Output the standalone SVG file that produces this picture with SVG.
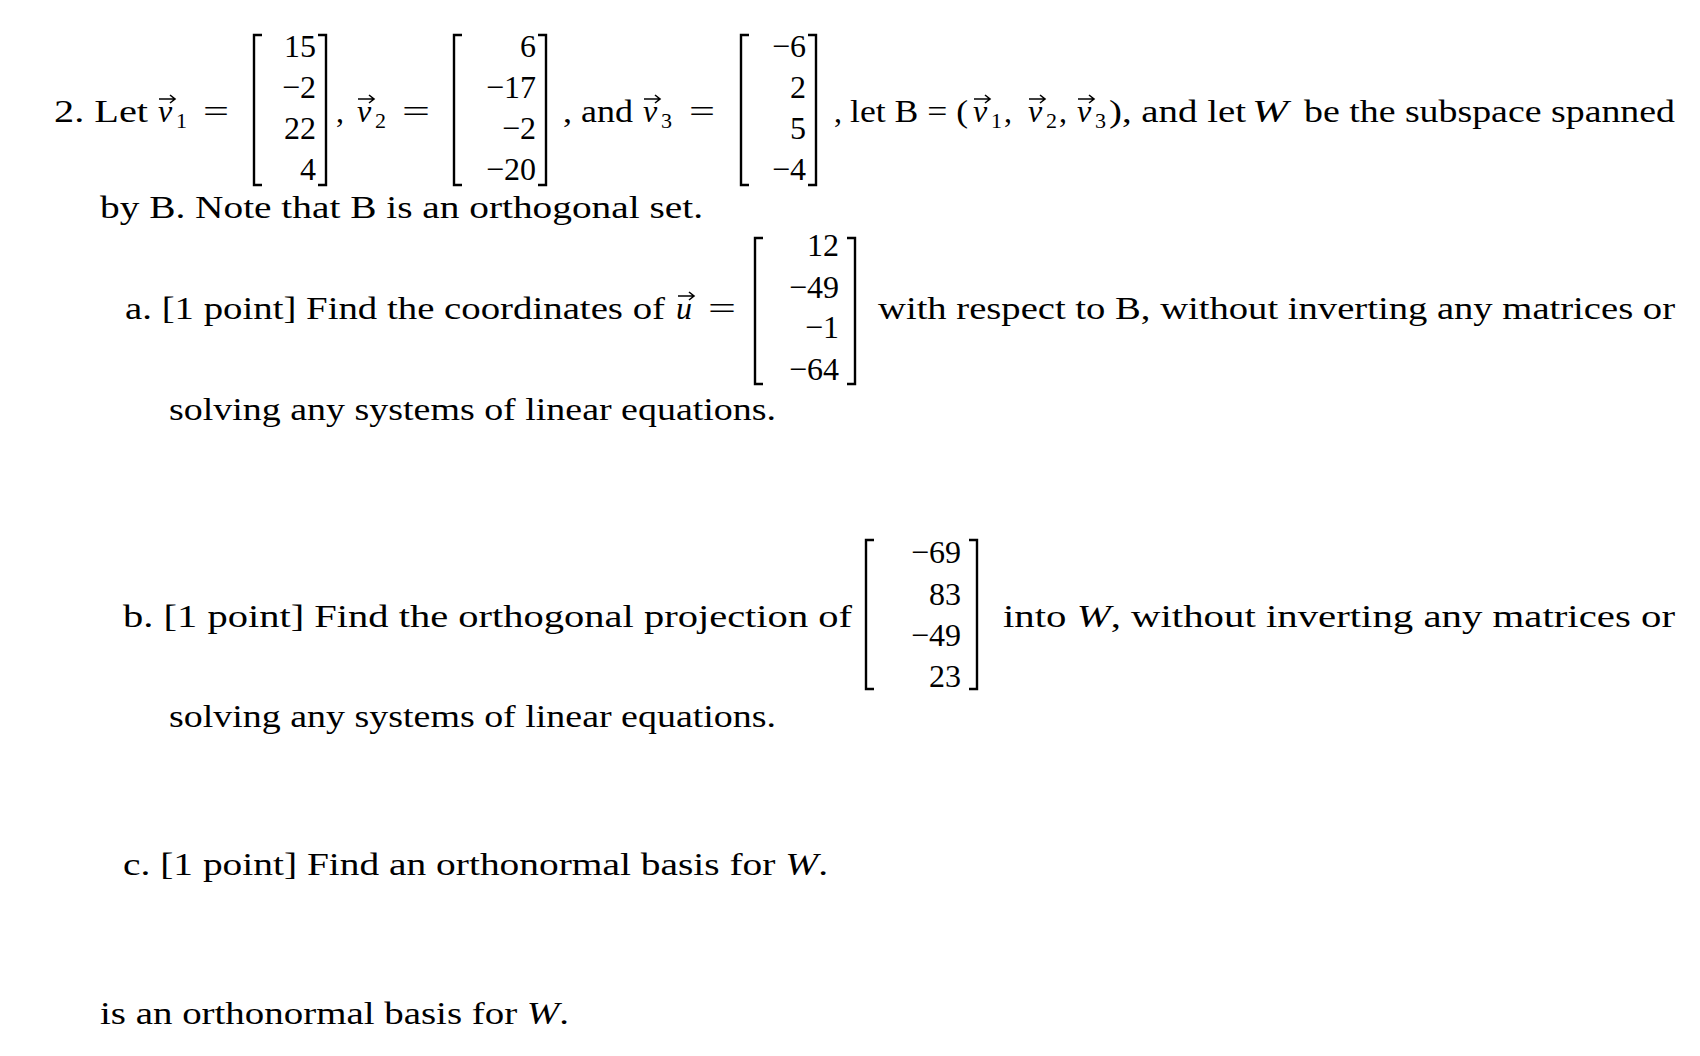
<svg xmlns="http://www.w3.org/2000/svg" width="1700" height="1056" viewBox="0 0 1700 1056">
<style>
text{font-family:"Liberation Serif","DejaVu Serif",serif;font-size:32px;fill:#000}
.m{text-anchor:end}
.i{font-style:italic}
.s{font-size:22px}
.br{fill:none;stroke:#000;stroke-width:2.4}
.ar{fill:none;stroke:#000;stroke-width:1.6}
</style>
<defs>
<path id="arr" class="ar" d="M0,0 H16 M11,-4 L16,0 L11,4"/>
</defs>
<rect width="1700" height="1056" fill="#fff"/>
<g id="line1">
<text x="54" y="122" textLength="94" lengthAdjust="spacingAndGlyphs">2. Let</text>
<text class="i" x="158" y="122">v</text><use href="#arr" x="159" y="99"/><text class="s" x="176" y="128">1</text>
<text x="203" y="122" textLength="26" lengthAdjust="spacingAndGlyphs">=</text>
<path class="br" d="M262,35 H254 V185 H262 M318,35 H326 V185 H318"/>
<text class="m" x="316" y="57">15</text><text class="m" x="316" y="98">−2</text><text class="m" x="316" y="139">22</text><text class="m" x="316" y="180">4</text>
<text x="336" y="122">,</text>
<text class="i" x="357" y="122">v</text><use href="#arr" x="358" y="99"/><text class="s" x="375" y="128">2</text>
<text x="402" y="122" textLength="28" lengthAdjust="spacingAndGlyphs">=</text>
<path class="br" d="M462,35 H454 V185 H462 M538,35 H546 V185 H538"/>
<text class="m" x="536" y="57">6</text><text class="m" x="536" y="98">−17</text><text class="m" x="536" y="139">−2</text><text class="m" x="536" y="180">−20</text>
<text x="563" y="122" textLength="70" lengthAdjust="spacingAndGlyphs">, and</text>
<text class="i" x="643" y="122">v</text><use href="#arr" x="644" y="99"/><text class="s" x="661" y="128">3</text>
<text x="689" y="122" textLength="26" lengthAdjust="spacingAndGlyphs">=</text>
<path class="br" d="M749,35 H741 V185 H749 M808,35 H816 V185 H808"/>
<text class="m" x="806" y="57">−6</text><text class="m" x="806" y="98">2</text><text class="m" x="806" y="139">5</text><text class="m" x="806" y="180">−4</text>
<text x="834" y="122">,</text>
<text x="850" y="122" textLength="118" lengthAdjust="spacingAndGlyphs">let B = (</text>
<text class="i" x="973" y="122">v</text><use href="#arr" x="974" y="99"/><text class="s" x="991" y="128">1</text><text x="1004" y="122">,</text>
<text class="i" x="1028" y="122">v</text><use href="#arr" x="1029" y="99"/><text class="s" x="1046" y="128">2</text><text x="1059" y="122">,</text>
<text class="i" x="1077" y="122">v</text><use href="#arr" x="1078" y="99"/><text class="s" x="1095" y="128">3</text>
<text x="1109" y="122" textLength="137" lengthAdjust="spacingAndGlyphs">), and let</text>
<text class="i" x="1252" y="122" textLength="36" lengthAdjust="spacingAndGlyphs">W</text>
<text x="1304" y="122" textLength="371" lengthAdjust="spacingAndGlyphs">be the subspace spanned</text>
<text x="100" y="218" textLength="603" lengthAdjust="spacingAndGlyphs">by B. Note that B is an orthogonal set.</text>
</g>
<g id="partA">
<text x="125" y="319" textLength="540" lengthAdjust="spacingAndGlyphs">a. [1 point] Find the coordinates of</text>
<text class="i" x="676" y="319">u</text><use href="#arr" x="678" y="296"/>
<text x="708" y="319" textLength="28" lengthAdjust="spacingAndGlyphs">=</text>
<path class="br" d="M763,238 H755 V384 H763 M847,238 H855 V384 H847"/>
<text class="m" x="839" y="256">12</text><text class="m" x="839" y="298">−49</text><text class="m" x="839" y="338">−1</text><text class="m" x="839" y="380">−64</text>
<text x="878" y="319" textLength="797" lengthAdjust="spacingAndGlyphs">with respect to B, without inverting any matrices or</text>
<text x="169" y="420" textLength="607" lengthAdjust="spacingAndGlyphs">solving any systems of linear equations.</text>
</g>
<g id="partB">
<text x="123" y="627" textLength="729" lengthAdjust="spacingAndGlyphs">b. [1 point] Find the orthogonal projection of</text>
<path class="br" d="M874,540 H866 V689 H874 M969,540 H977 V689 H969"/>
<text class="m" x="961" y="563">−69</text><text class="m" x="961" y="605">83</text><text class="m" x="961" y="646">−49</text><text class="m" x="961" y="687">23</text>
<text x="1003" y="627" textLength="672" lengthAdjust="spacingAndGlyphs">into <tspan class="i">W</tspan>, without inverting any matrices or</text>
<text x="169" y="727" textLength="607" lengthAdjust="spacingAndGlyphs">solving any systems of linear equations.</text>
</g>
<g id="partC">
<text x="123" y="875" textLength="705" lengthAdjust="spacingAndGlyphs">c. [1 point] Find an orthonormal basis for <tspan class="i">W</tspan>.</text>
<text x="100" y="1024" textLength="469" lengthAdjust="spacingAndGlyphs">is an orthonormal basis for <tspan class="i">W</tspan>.</text>
</g>
</svg>
